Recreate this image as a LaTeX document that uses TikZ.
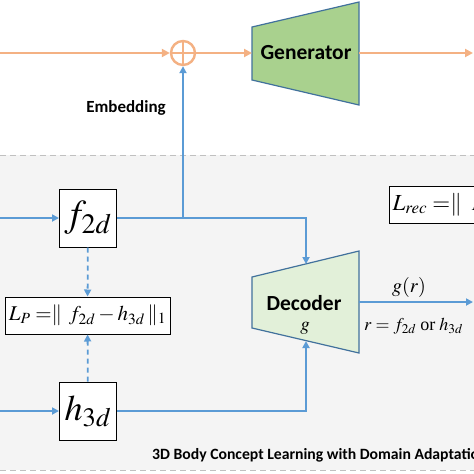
\documentclass[tikz,border=0pt]{standalone}
\usepackage{mathptmx}
\usepackage[no-math]{fontspec}
\setmainfont{Carlito}
\newfontfamily\timesfont{Liberation Serif}
\usepackage{tikz}
\usetikzlibrary{arrows.meta,positioning,calc}

\definecolor{flowblue}{HTML}{5B9BD5}
\definecolor{floworange}{HTML}{F4B183}
\definecolor{edgeblue}{HTML}{41719C}
\definecolor{genfill}{HTML}{A9D18E}
\definecolor{decfill}{HTML}{E2F0D9}
\definecolor{panelgray}{HTML}{F4F4F4}
\definecolor{dashgray}{HTML}{C0C0C0}

\tikzset{
  blueflow/.style={draw=flowblue,line width=1.8pt,-{Triangle[length=7pt,width=7pt]}},
  orangeflow/.style={draw=floworange,line width=2.4pt,-{Triangle[length=8pt,width=8pt]}},
  lossflow/.style={blueflow,dash pattern=on 5pt off 4pt},
  featbox/.style={draw,line width=1pt,fill=white,minimum width=57pt,minimum height=58pt,inner sep=0pt},
  lossbox/.style={draw,line width=1pt,fill=white,minimum height=37pt,inner sep=3pt},
  netshape/.style={draw=edgeblue,line width=1.2pt},
  nettext/.style={inner sep=0pt,font=\fontsize{21.5}{23}\selectfont\bfseries}
}

\begin{document}
\begin{tikzpicture}[x=1pt,y=-1pt]
      \path[use as bounding box] (0,0) rectangle (474,474);
      \clip (0,0) rectangle (474,474);
      \fill[white] (0,0) rectangle (474,474);

      % lower panel
      \fill[panelgray] (0,155) rectangle (474,470);
      \draw[dashgray,line width=1pt,dash pattern=on 6pt off 4pt] (0,155) -- (474,155);
      \draw[dashgray,line width=1pt,dash pattern=on 6pt off 4pt] (0,470) -- (474,470);

      \coordinate (inA) at (0,53);
      \coordinate (genL) at (252,53);
      \coordinate (genR) at (359,53);
      \coordinate (outA) at (473,53);
      \coordinate (split) at (183,218);
      \coordinate (in2d) at (0,218);
      \coordinate (in3d) at (0,411);
      \coordinate (decT) at (306,264);
      \coordinate (decB) at (306,341);
      \coordinate (decR) at (359,302);
      \coordinate (outB) at (473,302);

      % generator and decoder
      \draw[netshape,fill=genfill] (252,27) -- (359,2) -- (359,105) -- (252,80) -- cycle;
      \node[nettext] (gen) at (306,53) {Generator};
      \draw[netshape,fill=decfill] (252,277) -- (359,251) -- (359,353) -- (252,328) -- cycle;
      \node[nettext] (dec) at (304,303) {Decoder};
      \node[inner sep=0pt,font=\fontsize{19}{20}\selectfont] (decg) at (305,328) {$g$};

      % adder
      \node[draw=floworange,line width=2.4pt,circle,minimum size=24pt,inner sep=0pt] (plus) at (183,53) {};
      \draw[floworange,line width=2.4pt] (plus.north) -- (plus.south) (plus.west) -- (plus.east);

      \node[featbox] (f2d) at (88,218) {\fontsize{38}{40}\selectfont$f_{2d}$};
      \node[featbox] (h3d) at (88,411) {\fontsize{36}{40}\selectfont$h_{3d}$};
      \node[lossbox,minimum width=165pt] (lossP) at (87.5,315.5) {\fontsize{21}{24}\selectfont$L_P \mathrel{{=}{\|}}\, f_{2d} - h_{3d}\, \|_1$};
      \node[lossbox,anchor=west,minimum width=120pt] (lossR) at (389,204.5) {\fontsize{23}{24}\selectfont$L_{rec} \mathrel{{=}{\|}}\; P - g(r)\|$};

      \node[font=\fontsize{17}{19}\selectfont\bfseries] (emb) at (126,108) {Embedding};
      \node[font=\fontsize{20}{22}\selectfont] (gr) at (409,287) {$g(r)$};
      \node[anchor=west,inner sep=0pt,font=\fontsize{18}{20}\selectfont] (rdef) at (364,326) {$r = f_{2d}$ {\timesfont or} $h_{3d}$};
      \node[anchor=west,inner sep=0pt,font=\fontsize{15.7}{18}\selectfont\bfseries] (title) at (152,455) {3D Body Concept Learning with Domain Adaptation};

      % upper flow
      \draw[orangeflow] (inA) -- (plus);
      \draw[orangeflow] (plus) -- (genL);
      \draw[orangeflow] (genR) -- (outA);

      % lower flow
      \draw[blueflow] (in2d) -- (f2d);
      \draw[blueflow] (in3d) -- (h3d);
      \draw[blueflow] (split) -- (plus);
      \draw[blueflow] (f2d.east) -| (decT);
      \draw[blueflow] (h3d.east) -| (decB);
      \draw[blueflow] (decR) -- (outB);
      \draw[lossflow] (f2d) -- (lossP);
      \draw[lossflow] (h3d) -- (lossP);
    \end{tikzpicture}
\end{document}
